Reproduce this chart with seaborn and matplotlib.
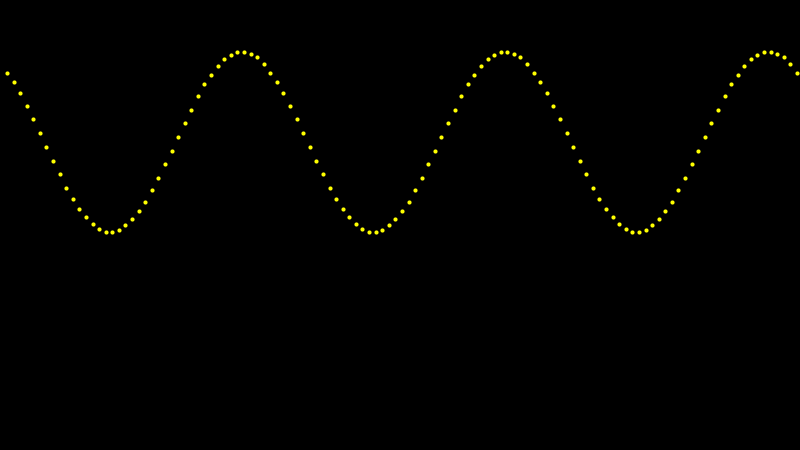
import pandas as pd
import matplotlib
matplotlib.use("Agg")
import matplotlib.pyplot as plt
import seaborn as sns

# One period of the wave (40 dots per period)
period_values = [
    0.77, 0.67, 0.54, 0.40, 0.25, 0.10, -0.06, -0.21, -0.36, -0.51,
    -0.64, -0.75, -0.84, -0.91, -0.97, -1.00, -1.00, -0.98, -0.93, -0.86,
    -0.77, -0.67, -0.54, -0.40, -0.25, -0.10, 0.06, 0.21, 0.36, 0.51,
    0.64, 0.75, 0.84, 0.92, 0.97, 1.00, 1.00, 0.98, 0.94, 0.87,
]
# The picture shows three full periods plus the closing dot
wave_values = period_values * 3 + [0.77]
sample_index = list(range(len(wave_values)))

dot_color = "#ffff00"

def main():
    sns.set_theme(style="dark")
    df = pd.DataFrame({"i": sample_index, "v": wave_values})

    fig = plt.figure(figsize=(8, 4.5), dpi=100, facecolor="black")
    ax = fig.add_axes([0, 0, 1, 1])
    ax.set_facecolor("black")
    sns.scatterplot(data=df, x="i", y="v", ax=ax, color=dot_color,
                    s=9, linewidth=0, legend=False)
    ax.set_xlim(-1.06, 120.46)
    ax.set_ylim(-3.43, 1.58)
    ax.set_axis_off()
    fig.savefig("out.png", facecolor="black")
    plt.close(fig)

if __name__ == "__main__":
    main()
